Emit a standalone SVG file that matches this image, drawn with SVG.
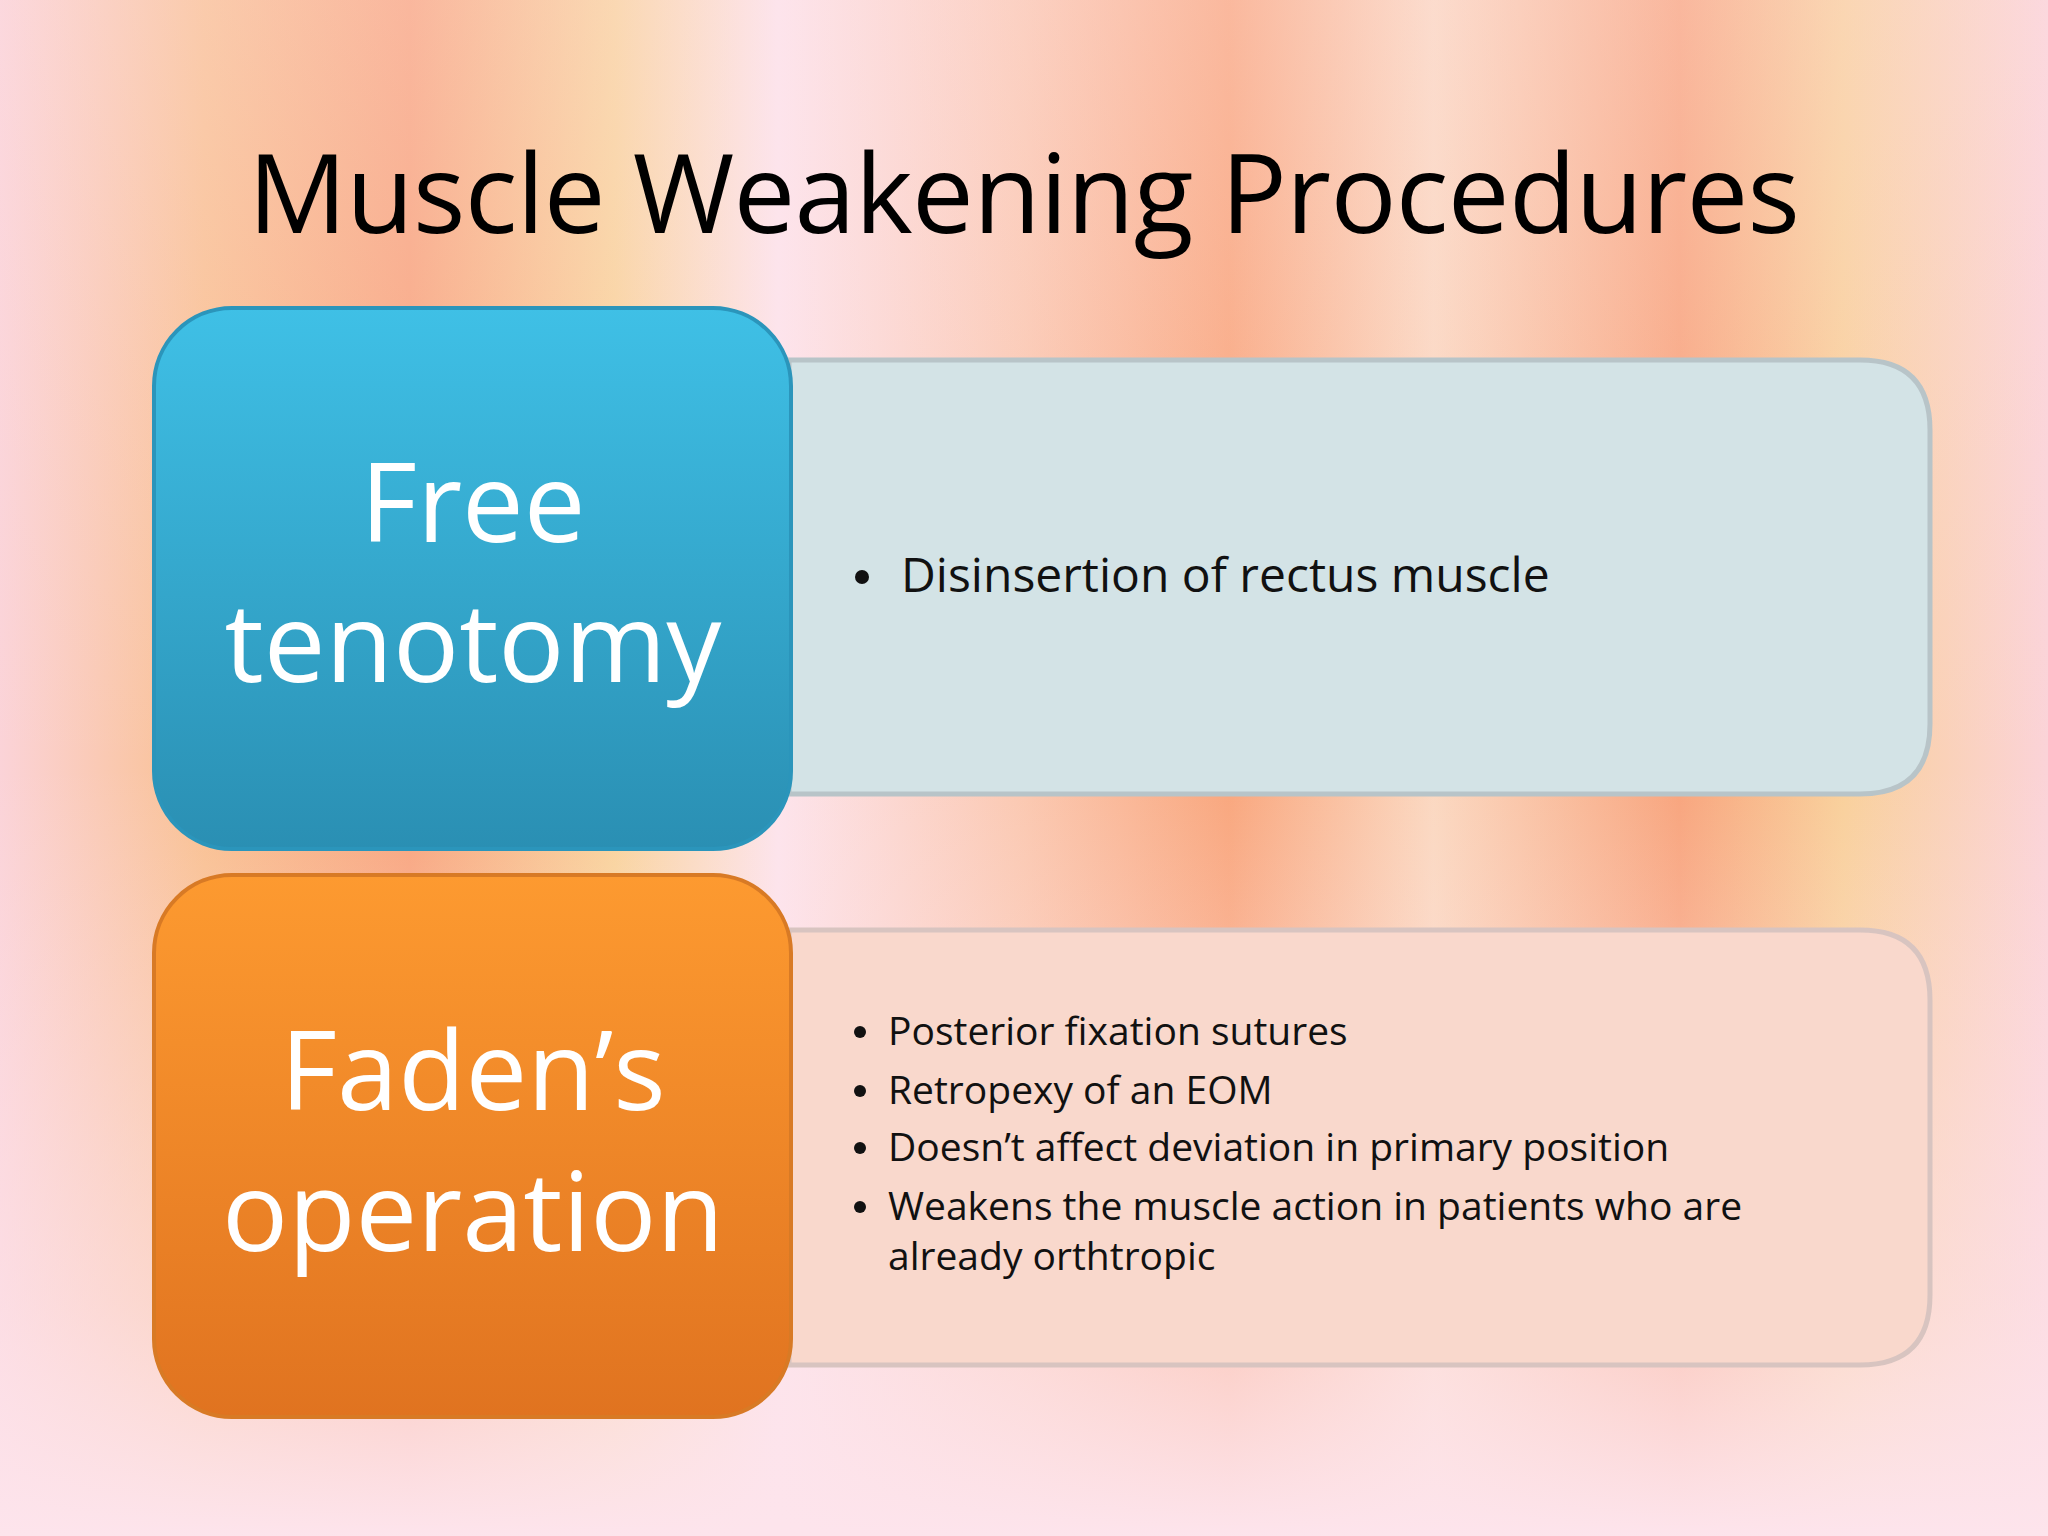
<svg xmlns="http://www.w3.org/2000/svg" width="2048" height="1536" viewBox="0 0 2048 1536">
<defs>
<linearGradient id="bg" x1="0" y1="0" x2="1" y2="0">
<stop offset="0" stop-color="#fbd3d8"/><stop offset="0.1" stop-color="#f9c090"/><stop offset="0.2" stop-color="#f8a47c"/><stop offset="0.3" stop-color="#f9d39a"/><stop offset="0.38" stop-color="#fde4ec"/><stop offset="0.5" stop-color="#fbc8b0"/><stop offset="0.6" stop-color="#f9a67c"/><stop offset="0.7" stop-color="#fbd8c0"/><stop offset="0.82" stop-color="#f8a47c"/><stop offset="0.9" stop-color="#f9d09a"/><stop offset="1" stop-color="#fbd3d8"/>
</linearGradient>
<linearGradient id="fade" x1="0" y1="0" x2="0" y2="1">
<stop offset="0" stop-color="#fde4ec" stop-opacity="0.3"/><stop offset="0.5" stop-color="#fde4ec" stop-opacity="0"/><stop offset="0.85" stop-color="#fde4ec" stop-opacity="0.6"/><stop offset="1" stop-color="#fde4ec" stop-opacity="1"/>
</linearGradient>
<linearGradient id="blue" x1="0" y1="0" x2="0" y2="1"><stop offset="0" stop-color="#3fc0e6"/><stop offset="1" stop-color="#2a8fb3"/></linearGradient>
<linearGradient id="orange" x1="0" y1="0" x2="0" y2="1"><stop offset="0" stop-color="#fd9a30"/><stop offset="1" stop-color="#e07320"/></linearGradient>
<style>
.t{font-family:"Open Sans","Liberation Sans",sans-serif}
.big{font-size:110px;fill:#fff;text-anchor:middle}
.b{font-size:48px;fill:#111}
.s{font-size:39px;fill:#111}
</style>
</defs>
<rect width="2048" height="1536" fill="url(#bg)"/>
<rect width="2048" height="1536" fill="url(#fade)"/>
<text class="t" x="1024" y="233" font-size="110" text-anchor="middle" textLength="1552" fill="#000">Muscle Weakening Procedures</text>
<g id="n1r"><path d="M789 360 H1860 Q1930 360 1930 430 V724 Q1930 794 1860 794 H789 Z" fill="#d3e3e6" stroke="#b8c4c8" stroke-width="5"/>
<circle cx="862" cy="577" r="7" fill="#111"/><text class="t b" x="901" y="592">Disinsertion of rectus muscle</text></g>
<g id="n1"><rect x="154" y="308" width="637" height="541" rx="78" fill="url(#blue)" stroke="#2b95bb" stroke-width="4"/>
<text class="t big" x="473" y="542">Free</text><text class="t big" x="473" y="682">tenotomy</text></g>
<g id="n2r"><path d="M789 930 H1860 Q1930 930 1930 1000 V1295 Q1930 1365 1860 1365 H789 Z" fill="#f9d8cc" stroke="#d8c4c0" stroke-width="5"/>
<g class="t s"><circle cx="860" cy="1032" r="6"/><text x="888" y="1045">Posterior fixation sutures</text>
<circle cx="860" cy="1091" r="6"/><text x="888" y="1104">Retropexy of an EOM</text>
<circle cx="860" cy="1148" r="6"/><text x="888" y="1161">Doesn’t affect deviation in primary position</text>
<circle cx="860" cy="1207" r="6"/><text x="888" y="1220">Weakens the muscle action in patients who are</text>
<text x="888" y="1270">already orthtropic</text></g></g>
<g id="n2"><rect x="154" y="875" width="637" height="542" rx="78" fill="url(#orange)" stroke="#d87a25" stroke-width="4"/>
<text class="t big" x="473" y="1110">Faden’s</text><text class="t big" x="473" y="1251">operation</text></g>
<g id="connectors"/>
</svg>
